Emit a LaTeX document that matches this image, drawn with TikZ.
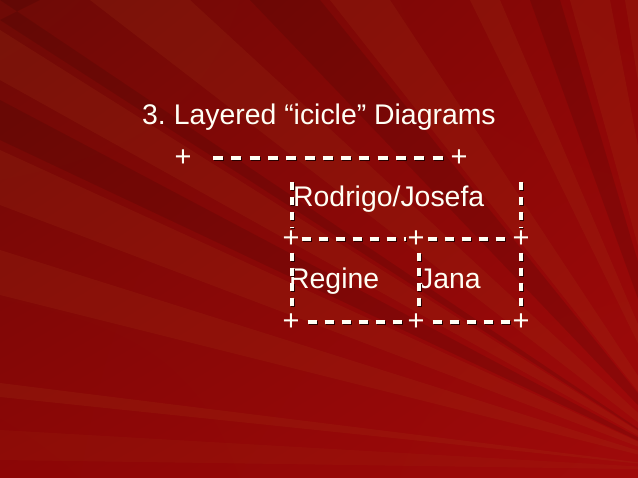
\documentclass[tikz,border=0pt]{standalone}
\usepackage{fontspec}
\setmainfont{Liberation Sans}
\usetikzlibrary{calc,shadings}
\definecolor{bgdark}{RGB}{110,10,6}
\definecolor{bgmid}{RGB}{140,6,6}
\definecolor{bglight}{RGB}{160,10,10}
\definecolor{raycol}{RGB}{170,70,25}
\definecolor{shadowc}{RGB}{40,0,0}
\definecolor{txtc}{RGB}{255,255,245}
\tikzset{
  lbl/.style={text=txtc, inner sep=0pt, anchor=base west, font=\fontsize{28.4}{32}\selectfont},
  plusn/.style={text=txtc, inner sep=0pt, anchor=center, font=\fontsize{29}{30}\selectfont},
  dl/.style={draw=txtc, line width=3.2pt, dash pattern=on 9pt off 8pt,
    preaction={draw=shadowc, line width=3.2pt, dash pattern=on 9pt off 8pt, transform canvas={shift={(1pt,-1pt)}}}},
  dlt/.style={draw=txtc, line width=3.2pt, dash pattern=on 10pt off 8.3pt,
    preaction={draw=shadowc, line width=3.2pt, dash pattern=on 10pt off 8.3pt, transform canvas={shift={(1pt,-1pt)}}}},
  vl/.style={draw=txtc, line width=3.2pt, dash pattern=on 8pt off 7pt,
    preaction={draw=shadowc, line width=3.2pt, dash pattern=on 8pt off 7pt, transform canvas={shift={(1pt,-1pt)}}}},
  ray/.style={fill=raycol, opacity=0.16},
  dray/.style={fill=black, opacity=0.10}
}
\begin{document}
\frenchspacing
\begin{tikzpicture}[x=1pt,y=-1pt]
\useasboundingbox (0,0) rectangle (638,478);
% background
\shade[upper left=bgdark, upper right=bgmid, lower left=bgmid, lower right=bglight] (0,0) rectangle (638,478);
\coordinate (F) at (700,470);
% light rays
\fill[ray] (F) -- (0,30) -- (0,80) -- cycle;
\fill[ray] (F) -- (0,150) -- (0,205) -- cycle;
\fill[ray] (F) -- (0,250) -- (0,295) -- cycle;
\fill[ray] (F) -- (0,383) -- (0,397) -- cycle;
\fill[ray] (F) -- (90,0) -- (190,0) -- cycle;
\fill[ray] (F) -- (330,0) -- (390,0) -- cycle;
\fill[ray] (F) -- (470,0) -- (500,0) -- cycle;
\fill[ray] (F) -- (570,0) -- (610,0) -- cycle;
\fill[ray] (F) -- (625,0) -- (638,0) -- (638,40) -- cycle;
\fill[ray, opacity=0.10] (F) -- (0,430) -- (0,460) -- cycle;
% dark rays
\fill[dray] (F) -- (250,0) -- (320,0) -- cycle;
\fill[dray] (F) -- (0,0) -- (40,0) -- (0,20) -- cycle;
\fill[dray] (F) -- (0,100) -- (0,140) -- cycle;
\fill[dray] (F) -- (530,0) -- (560,0) -- cycle;
% texts
\node[lbl] (title) at (142,125) {3. Layered “icicle” Diagrams};
\node[lbl] (rj) at (293,207) {Rodrigo/Josefa};
\node[lbl] (regine) at (289,289) {Regine};
\node[lbl] (jana) at (419,289) {Jana};
% plus signs
\node[plusn] (p0l) at (183,158) {+};
\node[plusn] (p0r) at (459,158) {+};
\node[plusn] (p1l) at (291,239) {+};
\node[plusn] (p1m) at (416,239) {+};
\node[plusn] (p1r) at (521,239) {+};
\node[plusn] (p2l) at (291,322) {+};
\node[plusn] (p2m) at (416,322) {+};
\node[plusn] (p2r) at (521,322) {+};
\coordinate (t0) at (213,158);
\coordinate (tl) at (292,182);
\coordinate (tr) at (521,182);
% horizontal dashed lines
\draw[dlt] (t0) -- (p0r.west);
\draw[dl] ($(p1l.east)+(2,0)$) -- ($(p1m.west)+(-1,0)$);
\draw[dl] ($(p1m.east)+(3,0)$) -- ($(p1r.west)+(-1,0)$);
\draw[dl] ($(p2l.east)+(8,0)$) -- ($(p2m.west)+(-1,0)$);
\draw[dl] ($(p2m.east)+(8,0)$) -- ($(p2r.west)+(-1,0)$);
% vertical dashed lines
\draw[vl] (tl) -- ($(p1l.north)+(1,-3)$);
\draw[vl] (tr) -- ($(p1r.north)+(0,-3)$);
\draw[vl] ($(p1l.south)+(1,5)$) -- ($(p2l.north)+(1,-3)$);
\draw[vl] ($(p1m.south)+(3,5)$) -- ($(p2m.north)+(3,-3)$);
\draw[vl] ($(p1r.south)+(0,5)$) -- ($(p2r.north)+(0,-3)$);
\end{tikzpicture}
\end{document}
